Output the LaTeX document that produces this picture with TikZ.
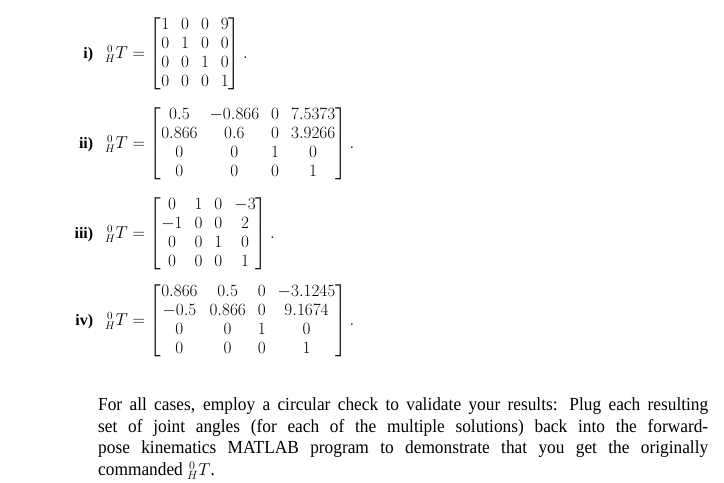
\documentclass[tikz,border=0pt]{standalone}
\usepackage{amsmath}
\usepackage{fontspec}
\setmainfont{Liberation Serif}
\begin{document}
\begin{tikzpicture}[x=1bp,y=-1bp,
  mat/.style={anchor=west,inner sep=0pt,font=\fontsize{16}{19}\selectfont}]
\useasboundingbox (0,0) rectangle (724,483);
\setlength{\arraycolsep}{6bp}
\newcommand{\lab}[1]{\makebox[26bp][r]{\bfseries #1}\hspace{12bp}}
\node[mat] (m1) at (67,54) {\lab{i)}${}^{\,0}_{H}T=\begin{bmatrix}1&0&0&9\\0&1&0&0\\0&0&1&0\\0&0&0&1\end{bmatrix}.$};
\node[mat] (m2) at (67,144) {\lab{ii)}${}^{\,0}_{H}T=\begin{bmatrix}0.5&-0.866&0&7.5373\\0.866&0.6&0&3.9266\\0&0&1&0\\0&0&0&1\end{bmatrix}.$};
\node[mat] (m3) at (67,234) {\lab{iii)}${}^{\,0}_{H}T=\begin{bmatrix}0&1&0&-3\\-1&0&0&2\\0&0&1&0\\0&0&0&1\end{bmatrix}.$};
\node[mat] (m4) at (67,321) {\lab{iv)}${}^{\,0}_{H}T=\begin{bmatrix}0.866&0.5&0&-3.1245\\-0.5&0.866&0&9.1674\\0&0&1&0\\0&0&0&1\end{bmatrix}.$};
\node[anchor=north west,inner sep=0pt,text width=610bp,align=justify,
  font=\fontsize{18.5}{21.5}\selectfont\addfontfeature{FakeStretch=0.94}] (p) at (98,398)
 {For all cases, employ a circular check to validate your results: Plug each resulting\linebreak set of joint angles (for each of the multiple solutions) back into the forward-\linebreak pose kinematics MATLAB program to demonstrate that you get the originally\linebreak commanded ${}^{\,0}_{H}T$.};
\end{tikzpicture}
\end{document}
